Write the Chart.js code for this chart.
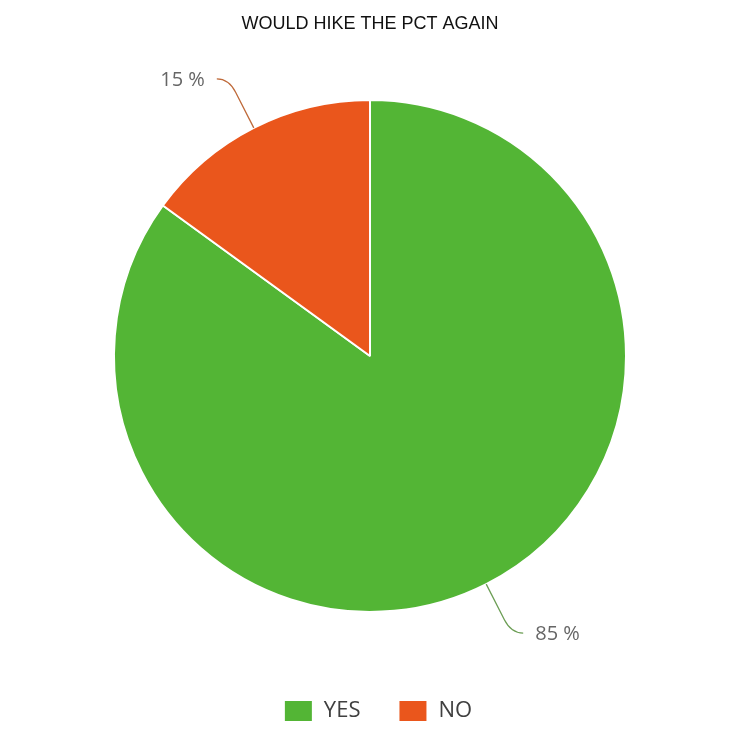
<!DOCTYPE html>
<html>
<head>
<meta charset="utf-8">
<script src="https://cdn.jsdelivr.net/npm/chart.js@4"></script>
<style>
  html, body { margin: 0; padding: 0; background: #fff; }
  #wrap { width: 743px; height: 744px; }
</style>
</head>
<body>
<div id="wrap"><canvas id="hikeChart"></canvas></div>
<script>
// data
const categories = ["YES", "NO"];
const percents = [85, 15];
const sliceColors = ["#53b535", "#ea561c"];
const leaderColors = ["#6c9e55", "#bf6a3a"];

// leader lines + "xx %" labels outside the slices
const outsideLabels = {
  id: "outsideLabels",
  afterDatasetsDraw(chart) {
    const ctx = chart.ctx;
    const meta = chart.getDatasetMeta(0);
    ctx.save();
    meta.data.forEach((arc, i) => {
      const p = arc.getProps(["x", "y", "startAngle", "endAngle", "outerRadius"], true);
      const mid = (p.startAngle + p.endAngle) / 2;
      const dx = Math.cos(mid), dy = Math.sin(mid);
      const r = p.outerRadius;
      const side = dx >= 0 ? 1 : -1;
      const x0 = p.x + r * dx, y0 = p.y + r * dy;
      const x1 = p.x + (r + 40) * dx, y1 = p.y + (r + 40) * dy;
      const cx = p.x + (r + 55) * dx, cy = p.y + (r + 55) * dy;
      const ex = cx + side * 12, ey = cy;
      ctx.beginPath();
      ctx.moveTo(x0, y0);
      ctx.lineTo(x1, y1);
      ctx.quadraticCurveTo(cx, cy, ex, ey);
      ctx.strokeStyle = leaderColors[i];
      ctx.lineWidth = 1.3;
      ctx.stroke();
      ctx.fillStyle = "#666";
      ctx.font = "20px 'Open Sans'";
      ctx.textBaseline = "middle";
      ctx.textAlign = side > 0 ? "left" : "right";
      ctx.fillText(percents[i] + " %", ex + side * 12, ey + 1);
    });
    ctx.restore();
  }
};

// nudge the legend row to sit where the original one is
const legendShift = {
  id: "legendShift",
  afterLayout(chart) {
    chart.legend.left += 8;
    chart.legend.right += 8;
  }
};

const ctx = document.getElementById("hikeChart");
new Chart(ctx, {
  type: "pie",
  data: {
    labels: categories,
    datasets: [
      {
        data: percents,
        backgroundColor: sliceColors,
        borderColor: "#fff",
        borderWidth: 2,
      },
    ],
  },
  options: {
    responsive: true,
    maintainAspectRatio: false,
    animation: false,
    layout: {
      padding: { top: 0, left: 0, right: 3, bottom: 12 },
    },
    plugins: {
      title: {
        display: true,
        text: "WOULD HIKE THE PCT AGAIN",
        color: "#111",
        font: { family: "'Liberation Sans', Arial", size: 18, weight: "normal" },
        padding: { top: 13, bottom: 64.4 },
      },
      legend: {
        position: "bottom",
        title: {
          display: true,
          text: " ",
          font: { size: 10 },
          padding: { top: 0, bottom: 37 },
        },
        labels: {
          boxWidth: 29,
          boxHeight: 22,
          padding: 38,
          color: "#404040",
          font: { family: "'Open Sans'", size: 22 },
        },
      },
      tooltip: { enabled: false },
    },
  },
  plugins: [outsideLabels, legendShift],
});
</script>
</body>
</html>
